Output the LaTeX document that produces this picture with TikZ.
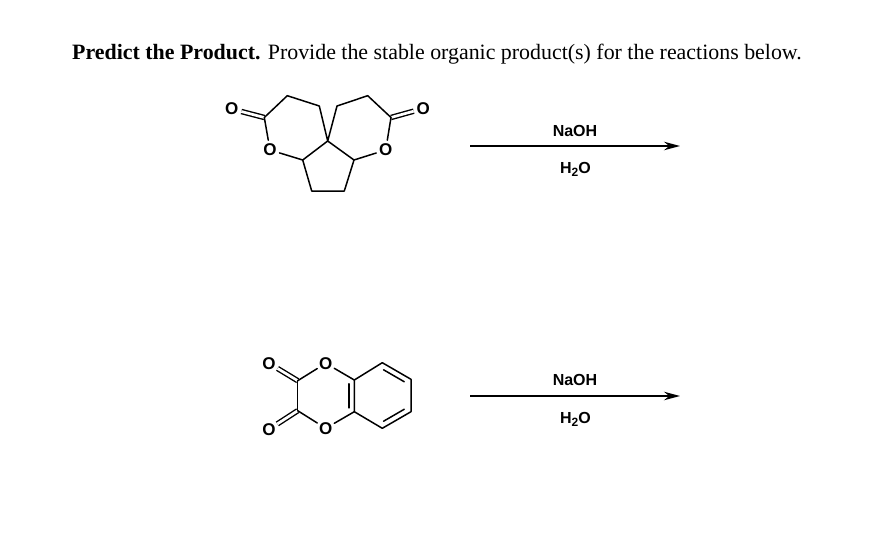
\documentclass[tikz,border=0pt]{standalone}
\usepackage{fontspec}
\setmainfont{Liberation Serif}
\newfontfamily\chemfont{Liberation Sans}
\usetikzlibrary{calc,arrows.meta}
\tikzset{
  atom/.style={font=\chemfont\bfseries\fontsize{17}{17}\selectfont,inner sep=0.6pt,circle,fill=white,minimum size=12pt},
  bond/.style={line width=1.5pt,line join=round,line cap=round},
  dbl/.style={line width=1.4pt,double,double distance=2.7pt},
  rxn/.style={line width=1.4pt,-{Stealth[length=16pt,width=8.5pt]},shorten >=0pt},
  reagent/.style={font=\chemfont\bfseries\fontsize{16}{16}\selectfont,inner sep=0pt,text=black},
  title/.style={font=\fontsize{21.9}{24}\selectfont,inner sep=0pt,anchor=base west}
}
\newcommand{\wsub}{\raisebox{-3pt}{\fontsize{12}{12}\selectfont 2}}
\begin{document}
\begin{tikzpicture}[x=1pt,y=-1pt]
\useasboundingbox (0,0) rectangle (880,554);
\node[title] (head) at (72,59) {\textbf{Predict the Product.} Provide the stable organic product(s) for the reactions below.};
% molecule 1
\coordinate (a1) at (264.3,117.5);
\coordinate (a2) at (287.3,95.7);
\coordinate (a3) at (319.3,106);
\coordinate (sp) at (327.7,141);
\coordinate (b3) at (337,106);
\coordinate (b2) at (367.7,95.7);
\coordinate (b1) at (391,117.5);
\coordinate (c1) at (302.7,160);
\coordinate (c2) at (354,160);
\coordinate (d1) at (311.7,191);
\coordinate (d2) at (344.3,191);
\node[atom] (oa) at (270,150) {O};
\node[atom] (ob) at (385.7,150) {O};
\node[atom] (oc) at (231.7,109) {O};
\node[atom] (od) at (423.3,108.5) {O};
\draw[dbl] (a1) -- (oc);
\draw[dbl] (b1) -- (od);
\draw[bond] (a1) -- (a2) -- (a3) -- (sp) -- (b3) -- (b2) -- (b1);
\draw[bond] (c1) -- (sp) -- (c2) -- (d2) -- (d1) -- (c1);
\draw[bond] (a1) -- (oa);
\draw[bond] (oa) -- (c1);
\draw[bond] (b1) -- (ob);
\draw[bond] (ob) -- (c2);
% molecule 2
\coordinate (e1) at (297.7,380.7);
\coordinate (e2) at (297.7,410.7);
\coordinate (f1) at (354.3,380);
\coordinate (f2) at (354.3,411.7);
\coordinate (g1) at (382.3,362.7);
\coordinate (g2) at (411,379.3);
\coordinate (g3) at (411,411.7);
\coordinate (g4) at (382.3,428.3);
\node[atom] (oe) at (325.7,363.3) {O};
\node[atom] (of) at (325.7,428.3) {O};
\node[atom] (og) at (269,363.3) {O};
\node[atom] (oh) at (269,429.3) {O};
\draw[dbl] (e1) -- (og);
\draw[dbl] (e2) -- (oh);
\draw[bond] (e1) -- (e2);
\draw[bond] (f1) -- (g1) -- (g2) -- (g3) -- (g4) -- (f2) -- (f1);
\draw[bond] (e1) -- (oe);
\draw[bond] (oe) -- (f1);
\draw[bond] (e2) -- (of);
\draw[bond] (of) -- (f2);
\draw[bond] ($(f1)!0.12!(f2)!5.5pt!-90:(f2)$) -- ($(f2)!0.12!(f1)!-5.5pt!-90:(f1)$);
\draw[bond] ($(g1)!0.14!(g2)!5.5pt!-90:(g2)$) -- ($(g2)!0.14!(g1)!-5.5pt!-90:(g1)$);
\draw[bond] ($(g3)!0.14!(g4)!5.5pt!-90:(g4)$) -- ($(g4)!0.14!(g3)!-5.5pt!-90:(g3)$);
% reactions
\coordinate (r1s) at (470,146);
\coordinate (r1e) at (680,146);
\coordinate (r2s) at (470,396);
\coordinate (r2e) at (680,396);
\draw[rxn] (r1s) -- (r1e);
\draw[rxn] (r2s) -- (r2e);
\node[reagent] (n1) at (575,131) {NaOH};
\node[reagent,anchor=base] (w1) at (575.5,173) {H\wsub O};
\node[reagent] (n2) at (575,380) {NaOH};
\node[reagent,anchor=base] (w2) at (575.5,423) {H\wsub O};
\end{tikzpicture}
\end{document}
